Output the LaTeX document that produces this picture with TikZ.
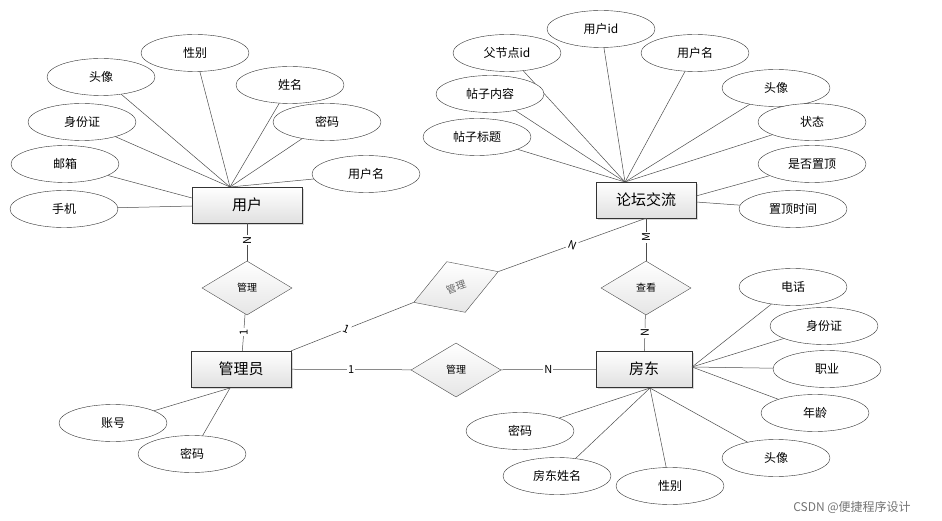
\documentclass[tikz,border=0pt]{standalone}
\usepackage{fontspec}
\setmainfont{Noto Sans CJK SC}
\usetikzlibrary{shapes.geometric,shadows}
\begin{document}
\begin{tikzpicture}[x=1pt,y=-1pt,
 ent/.style={draw=black!80,top color=white,bottom color=black!12,minimum width=100pt,minimum height=36pt,font=\fontsize{15}{15}\selectfont,drop shadow={opacity=0.3,shadow xshift=2pt,shadow yshift=-2pt}},
 attr/.style={ellipse,draw=black!80,fill=white,minimum width=108pt,minimum height=37pt,font=\fontsize{12}{12}\selectfont,inner sep=0pt},
 rel/.style={diamond,draw=black!70,top color=white,bottom color=black!10,minimum width=90pt,minimum height=54pt,aspect=1.7,inner sep=0pt,font=\fontsize{10}{10}\selectfont},
 ln/.style={draw=black!70,line width=0.5pt},
 lab/.style={fill=white,inner sep=1pt,font=\fontsize{11}{11}\selectfont}]
\useasboundingbox (0,0) rectangle (942,521);
% entities
\node[ent,minimum width=110pt] (yh) at (247,205) {用户};
\node[ent] (gly) at (241,369) {管理员};
\node[ent] (lt) at (646,200) {论坛交流};
\node[ent,minimum width=96pt] (fd) at (644,369) {房东};
% relations
\node[rel] (r1) at (247,288) {管理};
\node[rel] (r2) at (646,288) {查看};
\node[rel] (r3) at (456,370) {管理};
\node[rel,rotate=20,text=black!60] (r4) at (456,287) {管理};
% attribute coordinates
\coordinate (yt) at (230,187);
\coordinate (ltt) at (625,182);
\coordinate (fr) at (692,367);
\coordinate (fb) at (650,388);
\coordinate (gb) at (230,388);
% 用户 attrs
\foreach \n/\t/\x/\y/\e in {a1/头像/101/77/yt,a2/性别/195/53/yt,a3/姓名/290/85/yt,a4/密码/327/122/yt,a5/身份证/82/122/yt,a8/用户名/366/174/yt}
 {\node[attr] (\n) at (\x,\y) {\t}; \draw[ln] (\n) -- (\e);}
\node[attr] (a6) at (65,164) {邮箱}; \coordinate (yl1) at (192,198); \draw[ln] (a6) -- (yl1);
\node[attr] (a7) at (64,209) {手机}; \coordinate (yl2) at (192,206); \draw[ln] (a7) -- (yl2);
% 论坛交流 attrs
\foreach \n/\t/\x/\y in {b1/用户id/601/29,b2/父节点id/507/53,b3/用户名/695/53,b4/帖子内容/490/94,b5/头像/776/88,b6/状态/812/122,b7/帖子标题/477/137}
 {\node[attr] (\n) at (\x,\y) {\t}; \draw[ln] (\n) -- (ltt);}
\node[attr] (b8) at (812,164) {是否置顶}; \coordinate (lr1) at (696,196); \draw[ln] (b8) -- (lr1);
\node[attr] (b9) at (793,209) {置顶时间}; \coordinate (lr2) at (696,202); \draw[ln] (b9) -- (lr2);
% 房东 attrs
\foreach \n/\t/\x/\y in {c1/电话/793/287,c2/身份证/824/326,c3/职业/827/369,c4/年龄/815/413}
 {\node[attr] (\n) at (\x,\y) {\t}; \draw[ln] (\n) -- (fr);}
\foreach \n/\t/\x/\y in {c5/头像/776/458,c6/性别/670/486,c7/房东姓名/557/476,c8/密码/520/431}
 {\node[attr] (\n) at (\x,\y) {\t}; \draw[ln] (\n) -- (fb);}
% 管理员 attrs
\node[attr] (d1) at (113,423) {账号}; \draw[ln] (d1) -- (gb);
\node[attr] (d2) at (192,454) {密码}; \draw[ln] (d2) -- (gb);
% relationships
\draw[ln] (yh) -- node[lab,rotate=90,pos=0.45] {N} (r1);
\draw[ln] (r1) -- node[lab,rotate=90] {1} (gly);
\draw[ln] (lt) -- node[lab,rotate=90,pos=0.45] {M} (r2);
\draw[ln] (r2) -- node[lab,rotate=90] {N} (fd);
\draw[ln] (gly) -- node[lab] {1} (r3);
\draw[ln] (r3) -- node[lab] {N} (fd);
\draw[ln] (gly.north east) -- node[lab,rotate=-22,pos=0.45] {1} (r4.west);
\draw[ln] (r4.east) -- node[lab,rotate=-22,pos=0.5] {N} (lt.south);
\node[text=black!55,font=\fontsize{12}{12}\selectfont] (wm) at (852,507) {CSDN @便捷程序设计};
\end{tikzpicture}
\end{document}
